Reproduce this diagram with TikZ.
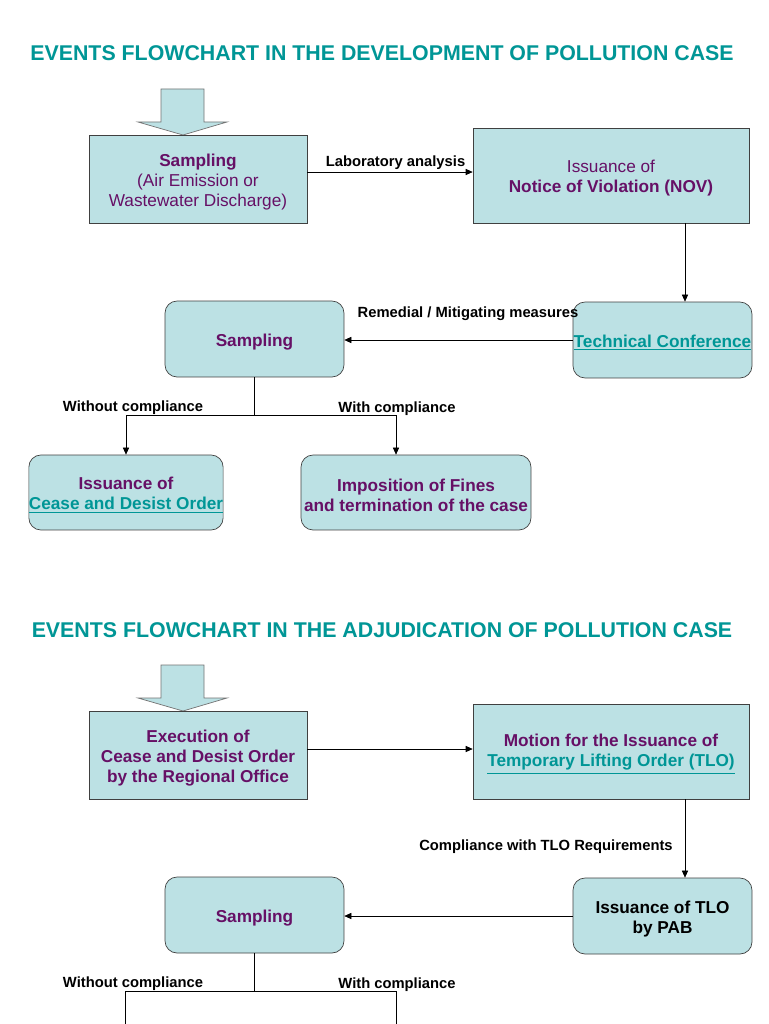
\documentclass[tikz,border=0pt]{standalone}
\usepackage{fontspec}
\setmainfont{Liberation Sans}
\usetikzlibrary{arrows.meta}
\definecolor{tealtxt}{RGB}{0,150,150}
\definecolor{plumtxt}{RGB}{102,16,102}
\definecolor{boxfill}{RGB}{188,225,228}
\newcommand{\boxstrut}{\rule{0pt}{1.05em}}
\tikzset{
  box/.style={draw=black!75, fill=boxfill, align=center, inner sep=0pt,
    font=\fontsize{9.8}{11.4}\selectfont\bfseries, text=plumtxt},
  rbox/.style={box, rounded corners=2.4mm},
  lbl/.style={font=\fontsize{8.4}{10}\selectfont\bfseries, inner sep=1pt},
  title/.style={font=\fontsize{12.15}{14}\selectfont\bfseries, text=tealtxt},
  link/.style={-{Triangle[length=4pt,width=3.5pt]}, black},
  bigarrow/.style={draw=black!55, fill=boxfill}
}
\begin{document}
\begin{tikzpicture}[x=0.02cm, y=-0.02cm]
\clip (0,0) rectangle (768,1024);
\fill[white] (0,0) rectangle (768,1024);
\node[title] (t1) at (382,53) {EVENTS FLOWCHART IN THE DEVELOPMENT OF POLLUTION CASE};
\draw[bigarrow] (161,89) -- (204,89) -- (204,122) -- (227,122) -- (183,135) -- (138,122) -- (161,122) -- cycle;
\node[box, minimum width=4.36cm, minimum height=1.76cm] (samp) at (198,179)
  {\boxstrut Sampling\\ \mdseries(Air Emission or\\ \mdseries Wastewater Discharge)};
\node[box, minimum width=5.52cm, minimum height=1.9cm] (nov) at (611,175.5)
  {\boxstrut\mdseries Issuance of\\ Notice of Violation (NOV)};
\node[rbox, minimum width=3.58cm, minimum height=1.52cm] (tech) at (662.5,340)
  {\boxstrut\textcolor{tealtxt}{\underline{Technical Conference}}};
\node[rbox, minimum width=3.58cm, minimum height=1.52cm] (samp2) at (254.5,339) {\boxstrut Sampling};
\node[rbox, minimum width=3.88cm, minimum height=1.5cm] (cdo) at (126,492.5)
  {\boxstrut Issuance of\\ \textcolor{tealtxt}{\underline{Cease and Desist Order}}};
\node[rbox, minimum width=4.6cm, minimum height=1.5cm] (fines) at (416,492.5)
  {\boxstrut Imposition of Fines\\ and termination of the case};
\draw[link] ([yshift=1.4mm]samp.east) -- ([yshift=1.4mm]samp.east -| nov.west)
  node[lbl, midway, above=0pt, xshift=1.1mm] (lab1) {Laboratory analysis};
\draw[link] ([xshift=1.48cm]nov.south) -- ([xshift=1.48cm]nov.south |- tech.north);
\draw[link] (tech.west) -- (samp2.east |- tech.west);
\node[lbl] (lab2) at (468,314) {Remedial / Mitigating measures};
\coordinate (j1) at (254.5,415);
\draw (samp2.south) -- (j1);
\draw[link] (j1) -| (cdo.north);
\draw[link] (j1) -| ([xshift=-4mm]fines.north);
\node[lbl] (lab3) at (133,408) {Without compliance};
\node[lbl] (lab4) at (397,409) {With compliance};
\node[title] (t2) at (382,630) {EVENTS FLOWCHART IN THE ADJUDICATION OF POLLUTION CASE};
\draw[bigarrow] (161,665) -- (204,665) -- (204,698) -- (227,698) -- (183,711) -- (138,698) -- (161,698) -- cycle;
\node[box, minimum width=4.36cm, minimum height=1.76cm] (exec) at (198,755)
  {\boxstrut Execution of\\ Cease and Desist Order\\ by the Regional Office};
\node[box, minimum width=5.52cm, minimum height=1.9cm] (motion) at (611,751.5)
  {\boxstrut Motion for the Issuance of\\ \textcolor{tealtxt}{\underline{Temporary Lifting Order (TLO)}}};
\node[rbox, minimum width=3.58cm, minimum height=1.52cm, text=black] (tlo) at (662.5,916)
  {\boxstrut Issuance of TLO\\ by PAB};
\node[rbox, minimum width=3.58cm, minimum height=1.52cm] (samp3) at (254.5,915) {\boxstrut Sampling};
\draw[link] (exec.east |- 0,749) -- (motion.west |- 0,749);
\draw[link] ([xshift=1.48cm]motion.south) -- ([xshift=1.48cm]motion.south |- tlo.north);
\node[lbl] (lab5) at (546,847) {Compliance with TLO Requirements};
\draw[link] (tlo.west) -- (samp3.east |- tlo.west);
\coordinate (j2) at (254.5,991);
\coordinate (d1) at (125,1040);
\coordinate (d2) at (396,1040);
\draw (samp3.south) -- (j2);
\draw[link] (j2) -| (d1);
\draw[link] (j2) -| (d2);
\node[lbl] (lab6) at (133,984) {Without compliance};
\node[lbl] (lab7) at (397,985) {With compliance};
\end{tikzpicture}
\end{document}
